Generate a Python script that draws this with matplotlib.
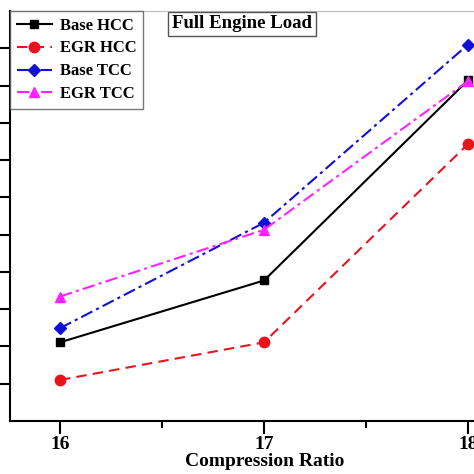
import numpy as np
import matplotlib.pyplot as plt
from matplotlib.ticker import MultipleLocator

plt.rcParams['font.family'] = ['Liberation Serif', 'DejaVu Serif']
plt.rcParams['font.weight'] = 'bold'

# Compression ratios
cr = [16, 17, 18]

# (y axis units unknown, tick labels cropped)
base_hcc = [2.11, 3.77, 9.14]
egr_hcc = [1.10, 2.11, 7.43]
base_tcc = [2.49, 5.32, 10.10]
egr_tcc = [3.34, 5.13, 9.12]

fig = plt.figure(figsize=(4.74, 4.74), dpi=100)
# axes runs past the right edge, like the cropped original
ax = fig.add_axes([10/474, (474-421)/474, 509/474, 410/474])

ax.plot(cr, base_hcc, color="black", linestyle="-", marker="s", markersize=6, lw=1.5, label="Base HCC")
ax.plot(cr, egr_hcc, color="#e8141c", linestyle=(0, (5, 3)), marker="o", markersize=7.5, lw=1.5, label="EGR HCC")
ax.plot(cr, base_tcc, color="#1010d8", linestyle=(0, (6, 2, 1.5, 2)), marker="D", markersize=6, lw=1.5, label="Base TCC")
ax.plot(cr, egr_tcc, color="#ff22ff", linestyle=(0, (6, 2, 1.5, 2)), marker="^", markersize=7.5, lw=1.5, label="EGR TCC")

ax.set_xlim(15.755, 18.25)
ax.set_ylim(0, 11)
ax.set_xticks(cr)
ax.xaxis.set_minor_locator(MultipleLocator(0.5))
ax.set_yticks(np.arange(1, 11))
ax.set_yticklabels([])

ax.tick_params(axis="x", which="major", direction="out", length=9, width=1.5, labelsize=14, pad=2)
ax.tick_params(axis="x", which="minor", direction="out", length=5, width=1.5)
ax.tick_params(axis="y", which="major", direction="out", length=10, width=1.5)
for lab in ax.get_xticklabels():
    lab.set_fontweight("bold")

for s in ["left", "bottom"]:
    ax.spines[s].set_linewidth(1.5)
ax.spines["top"].set_color("#bbbbbb")

ax.set_xlabel("Compression Ratio", fontsize=14, fontweight="bold", labelpad=0)

leg = ax.legend(loc="upper left", bbox_to_anchor=(0, 1), fontsize=12, frameon=True,
                fancybox=False, edgecolor="#555555", handlelength=2.1,
                borderaxespad=0, borderpad=0.4, labelspacing=0.41, handletextpad=0.5)
leg.get_frame().set_linewidth(1.0)
for t in leg.get_texts():
    t.set_fontweight("bold")

ax.text(172/474, 1 - 24/474, "Full Engine Load", transform=fig.transFigure,
        fontsize=13.5, fontweight="bold", va="center", ha="left",
        bbox=dict(boxstyle="square,pad=0.2", fc="white", ec="#555555", lw=1.0))

fig.savefig("out.png", dpi=100)
